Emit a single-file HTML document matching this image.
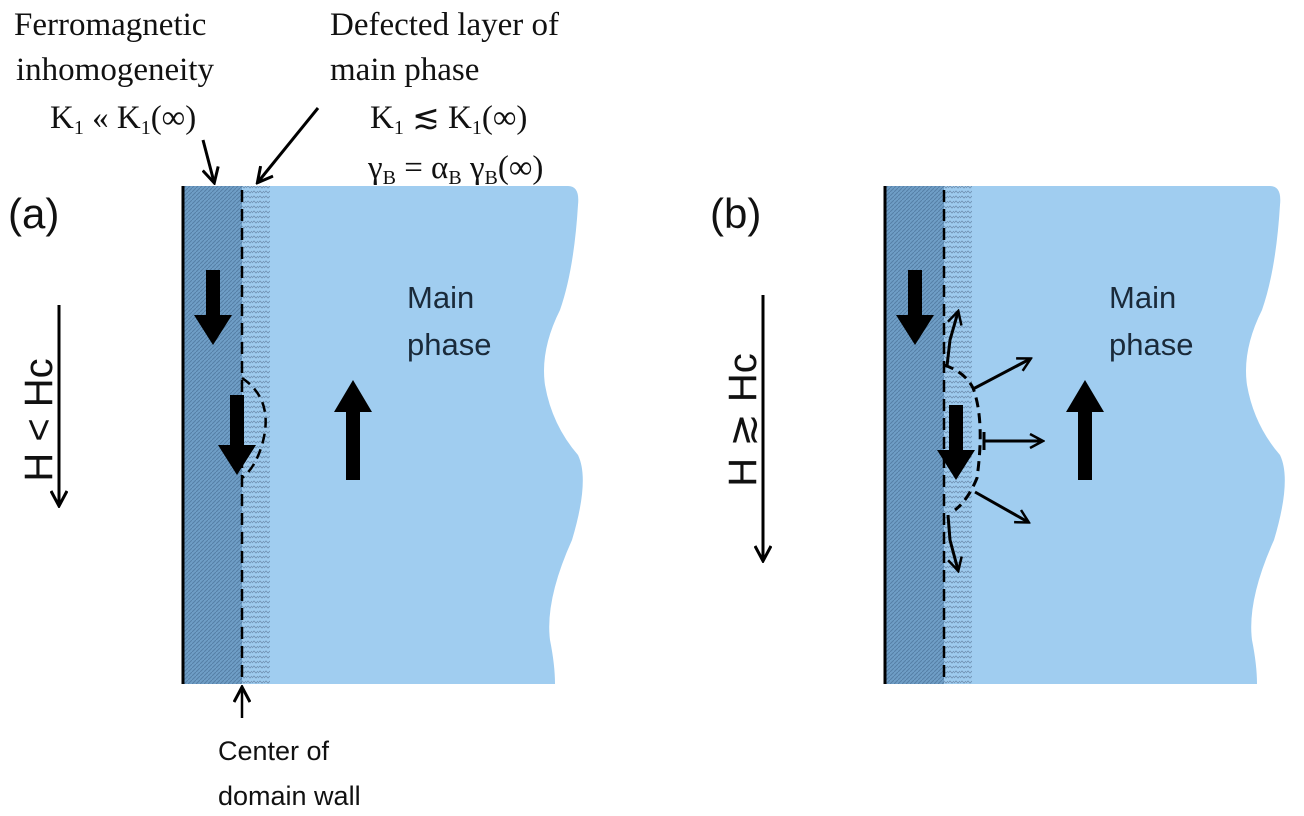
<!DOCTYPE html>
<html><head><style>body{margin:0;background:#fff}svg{display:block}</style></head><body>
<svg width="1304" height="816" viewBox="0 0 1304 816" xmlns="http://www.w3.org/2000/svg">
<defs>
<marker id="ah" markerWidth="16" markerHeight="16" refX="13" refY="8" orient="auto" markerUnits="userSpaceOnUse"><path d="M1,1 L14,8 L1,15" fill="none" stroke="#000" stroke-width="2.5"/></marker>
<marker id="ah2" markerWidth="18" markerHeight="18" refX="15" refY="9" orient="auto" markerUnits="userSpaceOnUse"><path d="M1,1 L16,9 L1,17" fill="none" stroke="#000" stroke-width="3"/></marker>
<pattern id="hd" width="4" height="4" patternUnits="userSpaceOnUse"><rect width="4" height="4" fill="#6f9ec6"/><path d="M0,4 L4,0" stroke="#557fa6" stroke-width="1"/></pattern>
<pattern id="hl" width="6" height="5" patternUnits="userSpaceOnUse"><rect width="6" height="5" fill="#9ecbee"/><path d="M0,3 L2,1 L4,3 L6,1" stroke="#6f8fb0" stroke-width="0.8" fill="none"/></pattern>
</defs>
<g font-family="Liberation Serif, serif" font-size="33" fill="#111">
<text x="14" y="35">Ferromagnetic</text>
<text x="16" y="80">inhomogeneity</text>
<text x="50" y="128">K<tspan font-size="20" dy="6">1</tspan><tspan dy="-6"> « K</tspan><tspan font-size="20" dy="6">1</tspan><tspan dy="-6">(∞)</tspan></text>
<text x="330" y="35">Defected layer of</text>
<text x="330" y="80">main phase</text>
<text x="370" y="128">K<tspan font-size="20" dy="6">1</tspan><tspan dy="-6"> ≲ K</tspan><tspan font-size="20" dy="6">1</tspan><tspan dy="-6">(∞)</tspan></text>
<text x="368" y="178">γ<tspan font-size="20" dy="6">B</tspan><tspan dy="-6"> = α</tspan><tspan font-size="20" dy="6">B</tspan><tspan dy="-6"> γ</tspan><tspan font-size="20" dy="6">B</tspan><tspan dy="-6">(∞)</tspan></text>
</g>
<line x1="203" y1="140" x2="214" y2="182" stroke="#000" stroke-width="3" marker-end="url(#ah2)"/>
<line x1="318" y1="108" x2="258" y2="182" stroke="#000" stroke-width="3" marker-end="url(#ah2)"/>
<g font-family="Liberation Sans, sans-serif" fill="#111">
<text x="8" y="228" font-size="42">(a)</text>
<text x="710" y="228" font-size="42">(b)</text>
<text transform="translate(52,420) rotate(-90)" font-size="40" text-anchor="middle">H &lt; Hc</text>
<text transform="translate(756,420) rotate(-90)" font-size="40" text-anchor="middle">H ≳ Hc</text>
<text x="218" y="760" font-size="27">Center of</text>
<text x="218" y="805" font-size="27">domain wall</text>
</g>
<line x1="59" y1="305" x2="59" y2="505" stroke="#000" stroke-width="3" marker-end="url(#ah2)"/>
<line x1="763" y1="295" x2="763" y2="560" stroke="#000" stroke-width="3" marker-end="url(#ah2)"/>
<line x1="242" y1="718" x2="242" y2="688" stroke="#000" stroke-width="2.5" marker-end="url(#ah2)"/>

<g id="pa">
<path d="M183,186 L568,186 Q580,186 578,205 Q574,270 560,310 Q540,350 545,385 Q552,425 578,455 Q590,480 572,540 Q545,600 550,640 Q555,665 555,684 L183,684 Z" fill="#a0cdf0"/>
<rect x="183" y="186" width="59" height="498" fill="url(#hd)"/>
<rect x="242" y="186" width="28" height="498" fill="url(#hl)"/>
<line x1="183" y1="186" x2="183" y2="684" stroke="#000" stroke-width="3"/>
<line x1="242" y1="190" x2="242" y2="684" stroke="#000" stroke-width="2.5" stroke-dasharray="12,7"/>
<text x="407" y="308" font-family="Liberation Sans, sans-serif" font-size="31" fill="#1a2a3a">Main</text>
<text x="407" y="355" font-family="Liberation Sans, sans-serif" font-size="31" fill="#1a2a3a">phase</text>
</g>
<use href="#pa" transform="translate(702,0)"/>

<g fill="#000">
<path d="M206,270 h14 v45 h12 l-19,30 l-19,-30 h12 z"/>
<path d="M230,395 h14 v50 h12 l-19,30 l-19,-30 h12 z"/>
<path d="M346,480 h14 v-68 h12 l-19,-32 l-19,32 h12 z"/>
<path d="M908,270 h14 v45 h12 l-19,30 l-19,-30 h12 z"/>
<path d="M949,405 h14 v45 h12 l-19,30 l-19,-30 h12 z"/>
<path d="M1078,480 h14 v-68 h12 l-19,-32 l-19,32 h12 z"/>
</g>
<path d="M242,378 Q275,400 262,445 Q255,468 242,478" fill="none" stroke="#000" stroke-width="2.5" stroke-dasharray="10,6"/>
<path d="M944,365 Q965,372 973,388 Q985,420 977,478 Q968,500 955,510" fill="none" stroke="#000" stroke-width="3" stroke-dasharray="10,6"/>
<g stroke="#000" stroke-width="3" fill="none">
<polyline points="947,366 950,340 958,312" marker-end="url(#ah)"/>
<line x1="973" y1="389" x2="1030" y2="359" marker-end="url(#ah)"/>
<line x1="984" y1="441" x2="1042" y2="441" marker-end="url(#ah)"/>
<line x1="984" y1="432" x2="984" y2="450"/>
<line x1="975" y1="492" x2="1028" y2="522" marker-end="url(#ah)"/>
<polyline points="948,515 950,540 958,570" marker-end="url(#ah)"/>
</g>
</svg>
</body></html>
